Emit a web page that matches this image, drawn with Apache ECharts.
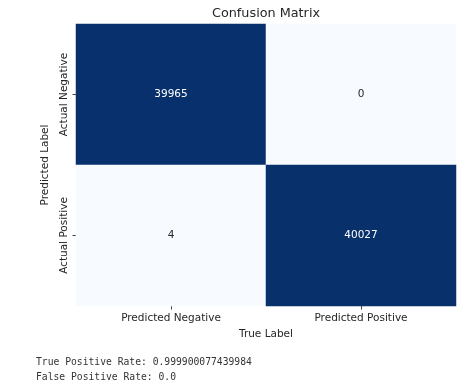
<!DOCTYPE html>
<html>
<head>
<meta charset="utf-8">
<script src="https://cdn.jsdelivr.net/npm/echarts@6/dist/echarts.min.js"></script>
<style>html,body{margin:0;padding:0;background:#fff;}#c{width:474px;height:384px;}</style>
</head>
<body>
<div id="c"></div>
<script>
var xCategories = ["Predicted Negative", "Predicted Positive"];
var yCategories = ["Actual Negative", "Actual Positive"];
var rowNegative = [39965, 0];
var rowPositive = [4, 40027];
var statsLines = ["True Positive Rate: 0.999900077439984", "False Positive Rate: 0.0"];

var rows = [rowNegative, rowPositive];
var maxV = Math.max.apply(null, rowNegative.concat(rowPositive));
var data = [];
rows.forEach(function (row, yi) {
  row.forEach(function (v, xi) {
    data.push({
      value: [xi, yi, v],
      label: { color: v > maxV / 2 ? '#ffffff' : '#262626' }
    });
  });
});

var chart = echarts.init(document.getElementById('c'), null, { renderer: 'canvas' });
var font = '"DejaVu Sans", sans-serif';
var graphics = [{
  type: 'text', x: 266, y: 14,
  style: { text: 'Confusion Matrix', fontFamily: font, fontSize: 12.8, fill: '#262626', align: 'center', verticalAlign: 'middle' }
}];
statsLines.forEach(function (t, i) {
  graphics.push({
    type: 'text', x: 36, y: 362 + i * 15,
    style: { text: t, fontFamily: '"DejaVu Sans Mono", monospace', fontSize: 9.7, fill: '#333333', align: 'left', verticalAlign: 'middle' }
  });
});

chart.setOption({
  animation: false,
  backgroundColor: '#ffffff',
  grid: { left: 76, right: 18, top: 24, bottom: 78 },
  xAxis: {
    type: 'category', data: xCategories, position: 'bottom',
    name: 'True Label', nameLocation: 'middle', nameGap: 22,
    nameTextStyle: { fontFamily: font, fontSize: 10.5, color: '#262626' },
    axisLine: { show: false },
    axisTick: { show: true, alignWithLabel: true, length: 3.5, lineStyle: { color: '#444' } },
    axisLabel: { fontFamily: font, fontSize: 10.5, color: '#262626', margin: 7 },
    splitLine: { show: false }, splitArea: { show: false }
  },
  yAxis: {
    type: 'category', data: yCategories, inverse: true,
    name: 'Predicted Label', nameLocation: 'middle', nameGap: 24, nameRotate: 90,
    nameTextStyle: { fontFamily: font, fontSize: 10.5, color: '#262626' },
    axisLine: { show: false },
    axisTick: { show: true, alignWithLabel: true, length: 3.5, lineStyle: { color: '#444' } },
    axisLabel: { fontFamily: font, fontSize: 10.5, color: '#262626', rotate: 90, margin: 6 },
    splitLine: { show: false }, splitArea: { show: false }
  },
  visualMap: {
    show: false, min: 0, max: maxV, dimension: 2,
    inRange: { color: ['#f7fbff', '#deebf7', '#c6dbef', '#9ecae1', '#6baed6', '#4292c6', '#2171b5', '#08519c', '#08306b'] }
  },
  series: [{
    type: 'heatmap',
    data: data,
    label: { show: true, fontFamily: font, fontSize: 10.5 },
    itemStyle: { borderWidth: 0 },
    emphasis: { disabled: true }
  }],
  graphic: graphics
});
</script>
</body>
</html>
